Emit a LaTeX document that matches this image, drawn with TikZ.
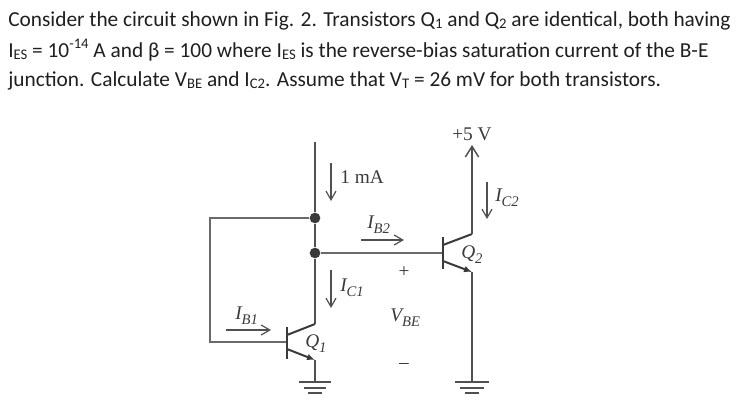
\documentclass[tikz,border=0pt]{standalone}
\usepackage{fontspec}
\setmainfont{Carlito}
\newfontfamily\cirfont{Liberation Serif}
\usetikzlibrary{arrows.meta}
\definecolor{wire}{HTML}{505050}
\definecolor{ink}{HTML}{3A3A3A}
\newcommand{\lowsub}[1]{\raisebox{-0.12em}{\fontsize{11pt}{12pt}\selectfont #1}}
\newcommand{\cirlab}[2]{{\cirfont\itshape #1\raisebox{-0.25em}{\fontsize{11pt}{12pt}\selectfont #2}}}
\tikzset{
  x=0.75pt,y=-0.75pt,
  para/.style={anchor=base west,inner sep=0pt,font=\fontsize{16pt}{18pt}\selectfont,text=black!88},
  wireline/.style={draw=wire,line width=1.1pt},
  thinwire/.style={draw=wire!85,line width=1pt},
  devline/.style={draw=ink,line width=1.5pt},
  curarrow/.style={draw=wire,line width=0.9pt,-{Straight Barb[length=6.5pt,width=7.5pt]}},
  dotnode/.style={circle,fill=ink,inner sep=0pt,minimum width=8pt,minimum height=7pt},
  lab/.style={inner sep=0pt,text=ink,font=\cirfont\fontsize{14.5pt}{16pt}\selectfont},
  gndbar/.style={draw=wire,line width=1.3pt},
}
\begin{document}
\begin{tikzpicture}
\useasboundingbox (0,0) rectangle (742,418);
\node[para] (l1) at (8,26) {Consider the circuit shown in Fig. 2. Transistors Q\lowsub{1} and Q\lowsub{2} are identical, both having};
\node[para] (l2) at (8,57) {I\lowsub{ES} = 10\raisebox{0.42em}{\fontsize{11pt}{12pt}\selectfont -14} A and β = 100 where I\lowsub{ES} is the reverse-bias saturation current of the B-E};
\node[para] (l3) at (8,86) {junction. Calculate V\lowsub{BE} and I\lowsub{C2}. Assume that V\lowsub{T} = 26 mV for both transistors.};

% named points
\coordinate (top) at (315,142);
\node[dotnode] (j1) at (315,218) {};
\node[dotnode] (j2) at (315,253) {};
\coordinate (loopTL) at (210,218);
\coordinate (loopBL) at (210,342);
\coordinate (b1) at (287,342);
\coordinate (b1t) at (287,327);
\coordinate (b1b) at (287,359);
\coordinate (c1i) at (287,335);
\coordinate (c1) at (315,324);
\coordinate (e1i) at (287,349);
\coordinate (e1) at (315,360);
\coordinate (g1) at (315,382);
\coordinate (b2) at (443,253);
\coordinate (b2t) at (443,237);
\coordinate (b2b) at (443,269);
\coordinate (c2i) at (443,245);
\coordinate (c2) at (472,234);
\coordinate (e2i) at (443,261);
\coordinate (e2) at (472,272);
\coordinate (g2) at (472,382);
\coordinate (vcc) at (472,145);

% wires
\draw[wireline] (top) -- (j1) -- (j2) -- (c1);
\draw[thinwire] (j1) -- (loopTL) -- (loopBL) -- (b1);
\draw[thinwire] (j2) -- (b2);
\draw[devline] (b1t) -- (b1b);
\draw[devline] (c1i) -- (c1);
\draw[devline,-{Latex[length=6pt,width=5pt]}] (e1i) -- (e1);
\draw[wireline] (e1) -- (g1);
\draw[devline] (b2t) -- (b2b);
\draw[devline] (c2i) -- (c2);
\draw[devline,-{Latex[length=6pt,width=5pt]}] (e2i) -- (e2);
\draw[wireline] (e2) -- (g2);
\draw[wireline,-{Straight Barb[length=8pt,width=10pt]}] (c2) -- (vcc);

% grounds
\foreach \g/\a/\yy in {315/16/382,315/11/388,315/7/393,472/17/382,472/12/388,472/7/393}{
  \draw[gndbar] (\g-\a,\yy) -- (\g+\a,\yy);
}

% current arrows
\coordinate (ia1) at (331,163); \coordinate (ia2) at (331,201);
\coordinate (ib1) at (331,270); \coordinate (ib2) at (331,308);
\coordinate (ic1) at (487,182); \coordinate (ic2) at (487,219);
\coordinate (id1) at (361,240); \coordinate (id2) at (404,240);
\coordinate (ie1) at (226,330); \coordinate (ie2) at (271,330);
\draw[curarrow] (ia1) -- (ia2);
\draw[curarrow] (ib1) -- (ib2);
\draw[curarrow] (ic1) -- (ic2);
\draw[curarrow] (id1) -- (id2);
\draw[curarrow] (ie1) -- (ie2);

% labels
\node[lab] (v5) at (472,134) {+5 V};
\node[lab,anchor=west] (ma) at (340,177) {1 mA};
\node[lab,anchor=west] (lb2) at (367,225) {\cirlab{I}{B2}};
\node[lab,anchor=west] (lc2) at (495,198) {\cirlab{I}{C2}};
\node[lab,anchor=west] (lc1) at (340,288) {\cirlab{I}{C1}};
\node[lab,anchor=west] (lb1) at (235,316) {\cirlab{I}{B1}};
\node[lab,anchor=west] (q2) at (461,255) {\cirlab{Q}{2}};
\node[lab,anchor=west] (q1) at (305,344) {\cirlab{Q}{1}};
\node[lab] (plus) at (404,272) {+};
\node[lab,anchor=west] (vbe) at (390,318) {\cirlab{V}{BE}};
\node[lab] (minus) at (404,366) {–};
\end{tikzpicture}
\end{document}
